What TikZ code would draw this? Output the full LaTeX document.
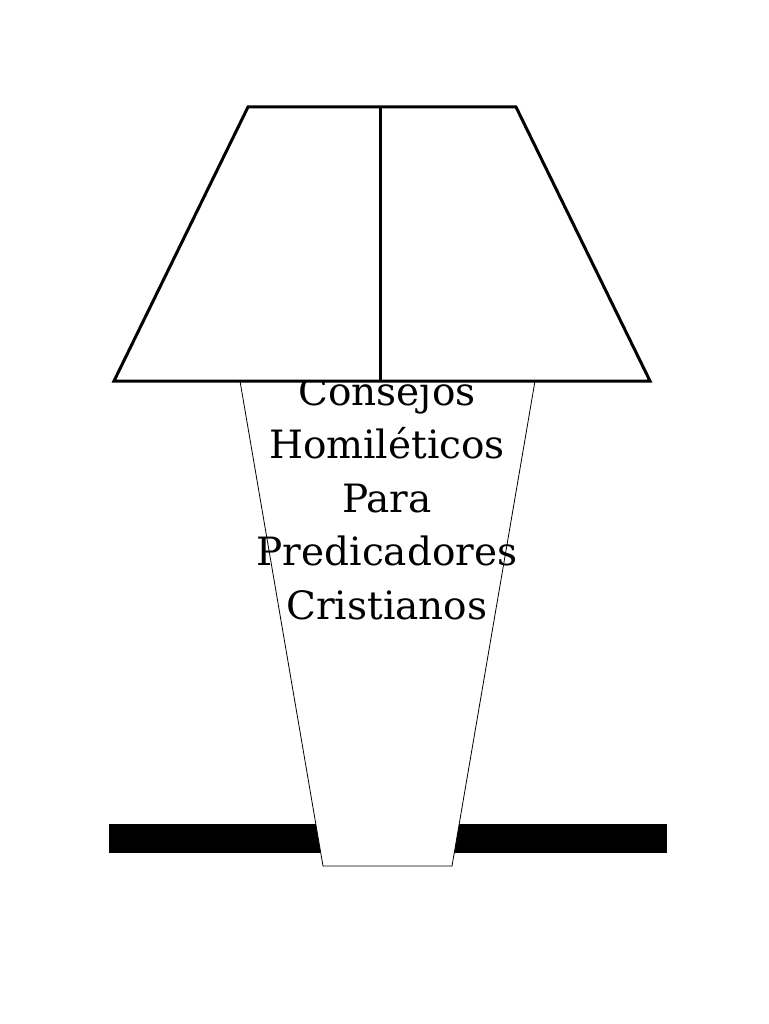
\documentclass[tikz,border=0pt]{standalone}
\usepackage{fontspec}
\setmainfont{DejaVu Serif}
\tikzset{
    outline/.style={draw=black,fill=white},
    title/.style={font=\fontsize{39}{53.5}\selectfont,align=center,anchor=north}
}
\begin{document}
\begin{tikzpicture}[x=1pt,y=-1pt]
    \useasboundingbox (0,0) rectangle (768,1024);
    % table
    \fill[black] (109,824) rectangle (667,853);
    % vase
    \draw[outline,line width=0.8pt] (240,381) coordinate(vaseTL) -- (535,381) coordinate(vaseTR)
        -- (452,866) coordinate(vaseBR) -- (323,866) coordinate(vaseBL) -- cycle;
    \node[title,inner sep=0pt] (text) at (387,376) {Consejos\\Homiléticos\\Para\\Predicadores\\Cristianos};
    % shade
    \draw[outline,line width=3pt,line join=miter] (248,107) coordinate(shadeTL) -- (516,107) coordinate(shadeTR)
        -- (650,381) coordinate(shadeBR) -- (114,381) coordinate(shadeBL) -- cycle;
    \draw[line width=3pt] (380,107) -- (380,381);
\end{tikzpicture}
\end{document}
